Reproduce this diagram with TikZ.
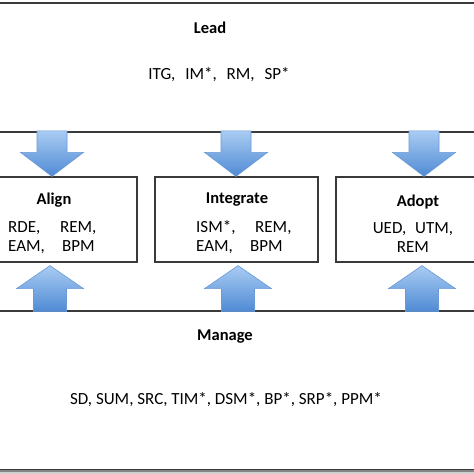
\documentclass[tikz,border=0pt]{standalone}
\usepackage{fontspec}
\setmainfont{Carlito}
\usetikzlibrary{calc}
\definecolor{linedark}{HTML}{3A3A3A}
\definecolor{linegray}{HTML}{858585}
\definecolor{shadowgray}{HTML}{CFCFCF}
\definecolor{arrowtop}{HTML}{A9CCF3}
\definecolor{arrowbot}{HTML}{4F8AD4}
\definecolor{arrowedge}{HTML}{6A9AD6}
\tikzset{
  panel/.style={draw=linedark, line width=1.3pt, inner sep=0pt},
  stagebox/.style={draw=linedark, line width=1.2pt, inner sep=0pt, fill=white},
  title/.style={font=\fontsize{16.5pt}{19pt}\selectfont\bfseries, inner sep=0pt},
  items/.style={font=\fontsize{17pt}{19pt}\selectfont, inner sep=0pt},
  blockarrow/.style={top color=arrowtop, bottom color=arrowbot, draw=arrowedge, line width=0.6pt}
}
\begin{document}
\begin{tikzpicture}[x=1pt, y=-1pt]
\useasboundingbox (0,0) rectangle (474,474);
\clip (0,0) rectangle (474,474);
\fill[white] (0,0) rectangle (474,474);
\fill[shadowgray] (-5,470) rectangle (480,480);
% panels
\node[panel, minimum width=560pt, minimum height=129pt] (lead) at (237,67.5) {};
\node[panel, minimum width=560pt, minimum height=159pt] (manage) at (237,390.5) {};
\draw[linegray, line width=2pt] (manage.south west) -- (manage.south east);
% stage boxes
\node[stagebox, minimum width=170pt, minimum height=85pt] (align) at (52,219.5) {};
\node[stagebox, minimum width=163pt, minimum height=85pt] (integrate) at (236.5,219.5) {};
\node[stagebox, minimum width=176pt, minimum height=85pt] (adopt) at (424,219.5) {};
% texts
\node[title] (leadtitle) at (210,28) {Lead};
\node[items] (leaditems) at (219,75) {ITG,\hspace{6pt} IM*,\hspace{6pt} RM,\hspace{6pt} SP*};
\node[title] (managetitle) at (225,337) {Manage};
\node[items] (manageitems) at (226,400) {SD, SUM, SRC, TIM*, DSM*, BP*, SRP*, PPM*};
\node[title] (aligntitle) at (54,200) {Align};
\node[items, anchor=west, align=left] (alignitems) at (8,237.5) {\makebox[52pt][l]{RDE,}REM,\\\makebox[54pt][l]{EAM,}BPM};
\node[title] (integratetitle) at (237,200) {Integrate};
\node[items, anchor=west, align=left] (integrateitems) at (196,237.5) {\makebox[59pt][l]{ISM*,}REM,\\\makebox[54pt][l]{EAM,}BPM};
\node[title] (adopttitle) at (418,202) {Adopt};
\node[items, align=center] (adoptitems) at (413,237.5) {UED,\hspace{9pt}UTM,\\REM};
% down arrows: lead -> stages
\foreach \b/\dx in {align/0, integrate/-0.5, adopt/0} {
  \shadedraw[blockarrow] ($(\b.north)+(\dx,0)$) -- ++(-31.5,-24) -- ++(16.5,0) -- ++(0,-21.5) -- ++(30,0) -- ++(0,21.5) -- ++(16.5,0) -- cycle;
}
% up arrows: manage -> stages
\foreach \b/\dx in {align/-2, integrate/1.5, adopt/-2} {
  \shadedraw[blockarrow] ($(\b.south)+(\dx,3)$) -- ++(-33.5,23) -- ++(17,0) -- ++(0,23) -- ++(33,0) -- ++(0,-23) -- ++(17,0) -- cycle;
}
\end{tikzpicture}
\end{document}
